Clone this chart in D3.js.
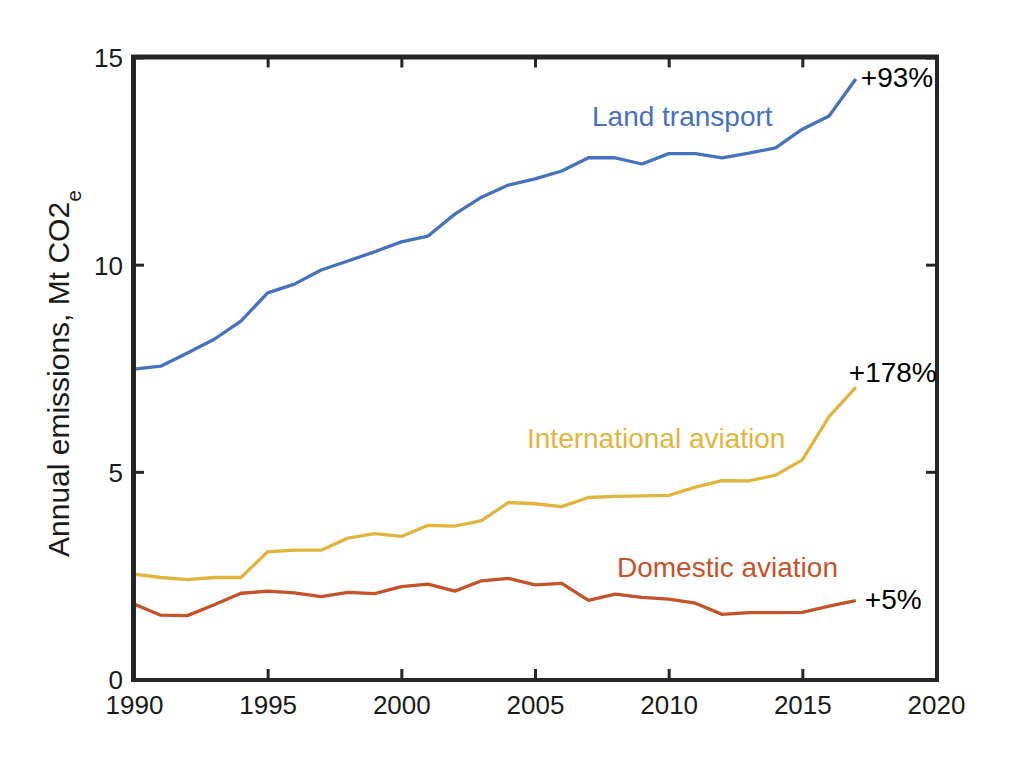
<!DOCTYPE html>
<html>
<head>
<meta charset="utf-8">
<script src="https://cdn.jsdelivr.net/npm/d3@7"></script>
<style>
  html, body { margin: 0; padding: 0; background: #fff; }
  text { font-family: "Liberation Sans", Arial, Helvetica, sans-serif; }
</style>
</head>
<body>
<svg id="chart" width="1034" height="764"></svg>
<script>
const years = d3.range(1990, 2018);
const landTransport = [7.48, 7.55, 7.87, 8.20, 8.64, 9.32, 9.53, 9.87, 10.09, 10.31,
  10.55, 10.69, 11.22, 11.63, 11.92, 12.07, 12.26, 12.58, 12.58, 12.43,
  12.68, 12.68, 12.58, 12.69, 12.82, 13.27, 13.59, 14.48];
const internationalAviation = [2.53, 2.45, 2.40, 2.45, 2.45, 3.07, 3.11, 3.11, 3.40, 3.51,
  3.44, 3.71, 3.69, 3.82, 4.26, 4.23, 4.16, 4.38, 4.41, 4.42,
  4.43, 4.63, 4.79, 4.78, 4.92, 5.29, 6.33, 7.04];
const domesticAviation = [1.81, 1.54, 1.53, 1.79, 2.07, 2.12, 2.08, 1.99, 2.09, 2.06,
  2.23, 2.29, 2.12, 2.37, 2.43, 2.27, 2.31, 1.90, 2.05, 1.97,
  1.93, 1.83, 1.56, 1.60, 1.60, 1.61, 1.76, 1.89];
const seriesNames = ["Land transport", "International aviation", "Domestic aviation"];
const changeLabels = ["+93%", "+178%", "+5%"];
const xTicks = [1990, 1995, 2000, 2005, 2010, 2015, 2020];
const yTicks = [0, 5, 10, 15];

const colors = ["#4671BD", "#E1B43C", "#C4532A"];
const svg = d3.select("#chart");
const L = 134, R = 936, T = 57.5, B = 679;
const x = d3.scaleLinear().domain([1990, 2020]).range([L, R]);
const y = d3.scaleLinear().domain([0, 15]).range([B, T]);
const axisColor = "#262626";

const series = [landTransport, internationalAviation, domesticAviation];
const line = d3.line().x((d, i) => x(years[i])).y(d => y(d));

series.forEach((s, k) => {
  svg.append("path").datum(s)
    .attr("d", line)
    .attr("fill", "none")
    .attr("stroke", colors[k])
    .attr("stroke-width", 3.3)
    .attr("stroke-linejoin", "round");
});

// axes box with inward ticks (mirrored)
const fmt = d3.format("d");
const bottomAx = svg.append("g").attr("transform", `translate(0,${B})`)
  .call(d3.axisBottom(x).tickValues(xTicks).tickFormat(fmt).tickSizeInner(-10).tickSizeOuter(0).tickPadding(17));
const topAx = svg.append("g").attr("transform", `translate(0,${T})`)
  .call(d3.axisTop(x).tickValues(xTicks).tickFormat("").tickSizeInner(-10).tickSizeOuter(0));
const leftAx = svg.append("g").attr("transform", `translate(${L},0)`)
  .call(d3.axisLeft(y).tickValues(yTicks).tickFormat(fmt).tickSizeInner(-10).tickSizeOuter(0).tickPadding(11));
const rightAx = svg.append("g").attr("transform", `translate(${R},0)`)
  .call(d3.axisRight(y).tickValues(yTicks).tickFormat("").tickSizeInner(-10).tickSizeOuter(0));

[bottomAx, topAx, leftAx, rightAx].forEach(g => {
  g.select(".domain").attr("stroke", axisColor).attr("stroke-width", 3);
  g.selectAll(".tick line").attr("stroke", axisColor).attr("stroke-width", 3);
  g.selectAll(".tick text").attr("fill", "#1a1a1a").style("font-size", "26px")
    .style("font-family", '"Liberation Sans", Arial, sans-serif');
});
leftAx.selectAll(".tick text").attr("dy", "0.36em");

// box outline
svg.append("rect").attr("x", L - 1.5).attr("y", T - 1.5)
  .attr("width", R - L + 3).attr("height", B - T + 3)
  .attr("fill", "none").attr("stroke", axisColor).attr("stroke-width", 3);

// y label
const yl = svg.append("text")
  .attr("transform", "translate(69,557) rotate(-90)")
  .attr("fill", "#1a1a1a").style("font-size", "30px");
yl.append("tspan").text("Annual emissions, Mt CO2");
yl.append("tspan").attr("dy", 12).style("font-size", "21px").text("e");

// series names
const namePos = [[592, 125.5], [527, 448], [617, 577]];
seriesNames.forEach((n, k) => {
  svg.append("text").attr("x", namePos[k][0]).attr("y", namePos[k][1])
    .attr("fill", colors[k]).style("font-size", "28px").text(n);
});

// change labels at series end
const lastYear = years[years.length - 1];
const labOffsets = [[5, 8], [-7, -5], [9, 8]];
series.forEach((s, k) => {
  svg.append("text")
    .attr("x", x(lastYear) + labOffsets[k][0])
    .attr("y", y(s[s.length - 1]) + labOffsets[k][1])
    .attr("fill", "#000").style("font-size", "28px").text(changeLabels[k]);
});
</script>
</body>
</html>
